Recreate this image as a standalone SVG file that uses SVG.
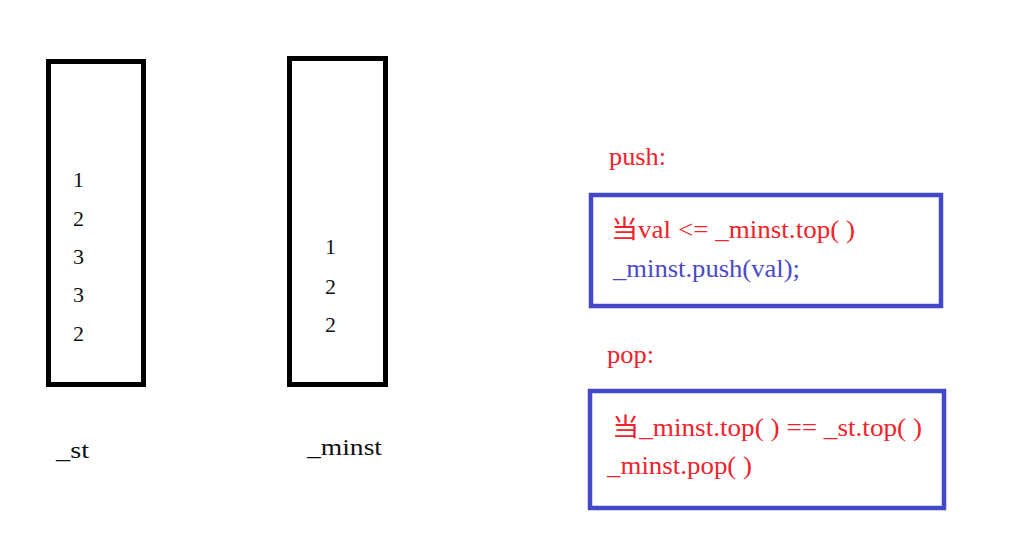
<svg xmlns="http://www.w3.org/2000/svg" width="1029" height="547" viewBox="0 0 1029 547">
<style>
.stack{fill:none;stroke:#000;stroke-width:5}
.code{fill:none;stroke:#4348c8;stroke-width:4.5}
.t{font-family:"Liberation Serif","Noto Sans CJK SC",serif;font-size:22px;fill:#111}
.l{font-family:"Liberation Serif","Noto Sans CJK SC",serif;font-size:24px;fill:#111}
.r{font-family:"Liberation Serif","Noto Sans CJK SC",serif;font-size:25px;fill:#f0222b}
.b{font-family:"Liberation Serif","Noto Sans CJK SC",serif;font-size:25px;fill:#4a4ac8}
</style>
<rect width="1029" height="547" fill="#fff"/>
<g id="st">
<rect class="stack" x="48.5" y="61.5" width="95" height="323"/>
<text class="t" x="73" y="187">1</text>
<text class="t" x="73" y="226">2</text>
<text class="t" x="73" y="264">3</text>
<text class="t" x="73" y="302">3</text>
<text class="t" x="73" y="341">2</text>
<text class="l" x="56" y="458" textLength="33" lengthAdjust="spacingAndGlyphs">_st</text>
</g>
<g id="minst">
<rect class="stack" x="289.5" y="58.5" width="96" height="326"/>
<text class="t" x="325" y="254">1</text>
<text class="t" x="325" y="294">2</text>
<text class="t" x="325" y="332">2</text>
<text class="l" x="307" y="455" textLength="75" lengthAdjust="spacingAndGlyphs">_minst</text>
</g>
<g id="push">
<text class="r" x="609" y="165" textLength="57" lengthAdjust="spacingAndGlyphs">push:</text>
<rect class="code" x="591" y="195" width="350" height="111"/>
<text class="r" x="611" y="238" textLength="244" lengthAdjust="spacingAndGlyphs">当val &lt;= _minst.top( )</text>
<text class="b" x="613" y="277" textLength="187" lengthAdjust="spacingAndGlyphs">_minst.push(val);</text>
</g>
<g id="pop">
<text class="r" x="607" y="363" textLength="47" lengthAdjust="spacingAndGlyphs">pop:</text>
<rect class="code" x="590" y="391" width="354" height="117"/>
<text class="r" x="612" y="436" textLength="310" lengthAdjust="spacingAndGlyphs">当_minst.top( ) == _st.top( )</text>
<text class="r" x="607" y="474" textLength="145" lengthAdjust="spacingAndGlyphs">_minst.pop( )</text>
</g>
<g id="connectors"/>
</svg>
